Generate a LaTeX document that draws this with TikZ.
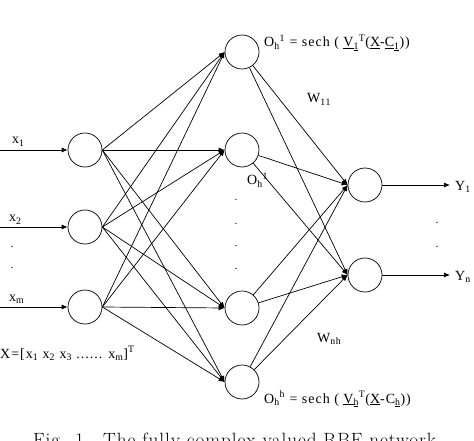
\documentclass[tikz,border=0pt]{standalone}
\usepackage{fontspec}
\setmainfont{Liberation Serif}[LetterSpace=7]
\newfontfamily\capfont{Latin Modern Roman}[LetterSpace=5]
\usetikzlibrary{arrows.meta}
\begin{document}
\begin{tikzpicture}[x=1pt,y=-1pt,
  neuron/.style={circle,draw,line width=0.7pt,minimum size=34pt,inner sep=0pt},
  conn/.style={line width=0.7pt,-{Latex[length=6pt,width=5pt]}},
  lbl/.style={inner sep=0pt,font=\fontsize{14}{16}\selectfont},
  dotlbl/.style={inner sep=0pt,font=\fontsize{11}{13}\selectfont}]
\useasboundingbox (0,0) rectangle (474,441);
% nodes
\node[neuron] (i1) at (85,150) {};
\node[neuron] (i2) at (85,227) {};
\node[neuron] (im) at (85,307) {};
\node[neuron] (h1) at (242,52) {};
\node[neuron] (h2) at (242,150) {};
\node[neuron] (h3) at (242,308) {};
\node[neuron] (h4) at (242,382) {};
\node[neuron] (o1) at (365,185) {};
\node[neuron] (o2) at (365,275) {};
% input arrows
\coordinate (c1) at (0,150);
\coordinate (c2) at (0,227);
\coordinate (cm) at (0,307);
\draw[conn] (c1) -- (i1.west);
\draw[conn] (c2) -- (i2.west);
\draw[conn] (cm) -- (im.west);
% input to hidden
\foreach \a in {i1,i2,im}{
  \foreach \b in {h1,h2,h3,h4}{
    \draw[conn] (\a.east) -- (\b.west);
  }
}
% hidden to output
\foreach \a in {h1,h2,h3,h4}{
  \foreach \b in {o1,o2}{
    \draw[conn] (\a) -- (\b.west);
  }
}
% output arrows
\coordinate (d1) at (450,185);
\coordinate (d2) at (450,275);
\draw[conn] (o1.east) -- (d1);
\draw[conn] (o2.east) -- (d2);
% labels
\node[lbl,anchor=base west] (lx1) at (12,144) {x\textsubscript{1}};
\node[lbl,anchor=base west] (lx2) at (9,222) {x\textsubscript{2}};
\node[lbl,anchor=base west] (lxm) at (9,301) {x\textsubscript{m}};
\node[dotlbl] (dl1) at (12,247) {.};
\node[dotlbl] (dl2) at (12,268) {.};
\node[lbl,anchor=base west] (lX) at (0,358) {X=[x\textsubscript{1} x\textsubscript{2} x\textsubscript{3} ...... x\textsubscript{m}]\textsuperscript{T}};
\node[lbl,anchor=base west] (ltop) at (264,47) {O\textsubscript{h}\textsuperscript{1} = sech ( \underline{V}\textsubscript{\underline{1}}\textsuperscript{T}(\underline{X}-\underline{C}\textsubscript{\underline{1}}))};
\node[lbl,anchor=base west] (lbot) at (264,403) {O\textsubscript{h}\textsuperscript{h} = sech ( \underline{V}\textsubscript{\underline{h}}\textsuperscript{T}(\underline{X}-C\textsubscript{\underline{h}}))};
\node[lbl,anchor=base west] (lO1) at (247,185) {O\textsubscript{h}\textsuperscript{1}};
\node[lbl,anchor=base west] (lW11) at (307,103) {W\textsubscript{11}};
\node[lbl,anchor=base west] (lWnh) at (317,342) {W\textsubscript{nh}};
\node[lbl,anchor=base west] (lY1) at (455,190) {Y\textsubscript{1}};
\node[lbl,anchor=base west] (lYn) at (455,280) {Y\textsubscript{n}};
\foreach \y [count=\k] in {200,224,246,269}{
  \node[dotlbl] (hd\k) at (236,\y) {.};
}
\node[dotlbl] (od1) at (437,223) {.};
\node[dotlbl] (od2) at (437,247) {.};
% caption (cut off by the page edge, as in the reference)
\node[inner sep=0pt,anchor=base west,font=\capfont\fontsize{19.2}{22}\selectfont] (cap) at (33,446) {Fig. 1.\ \ The fully complex valued RBF network};
\end{tikzpicture}
\end{document}
